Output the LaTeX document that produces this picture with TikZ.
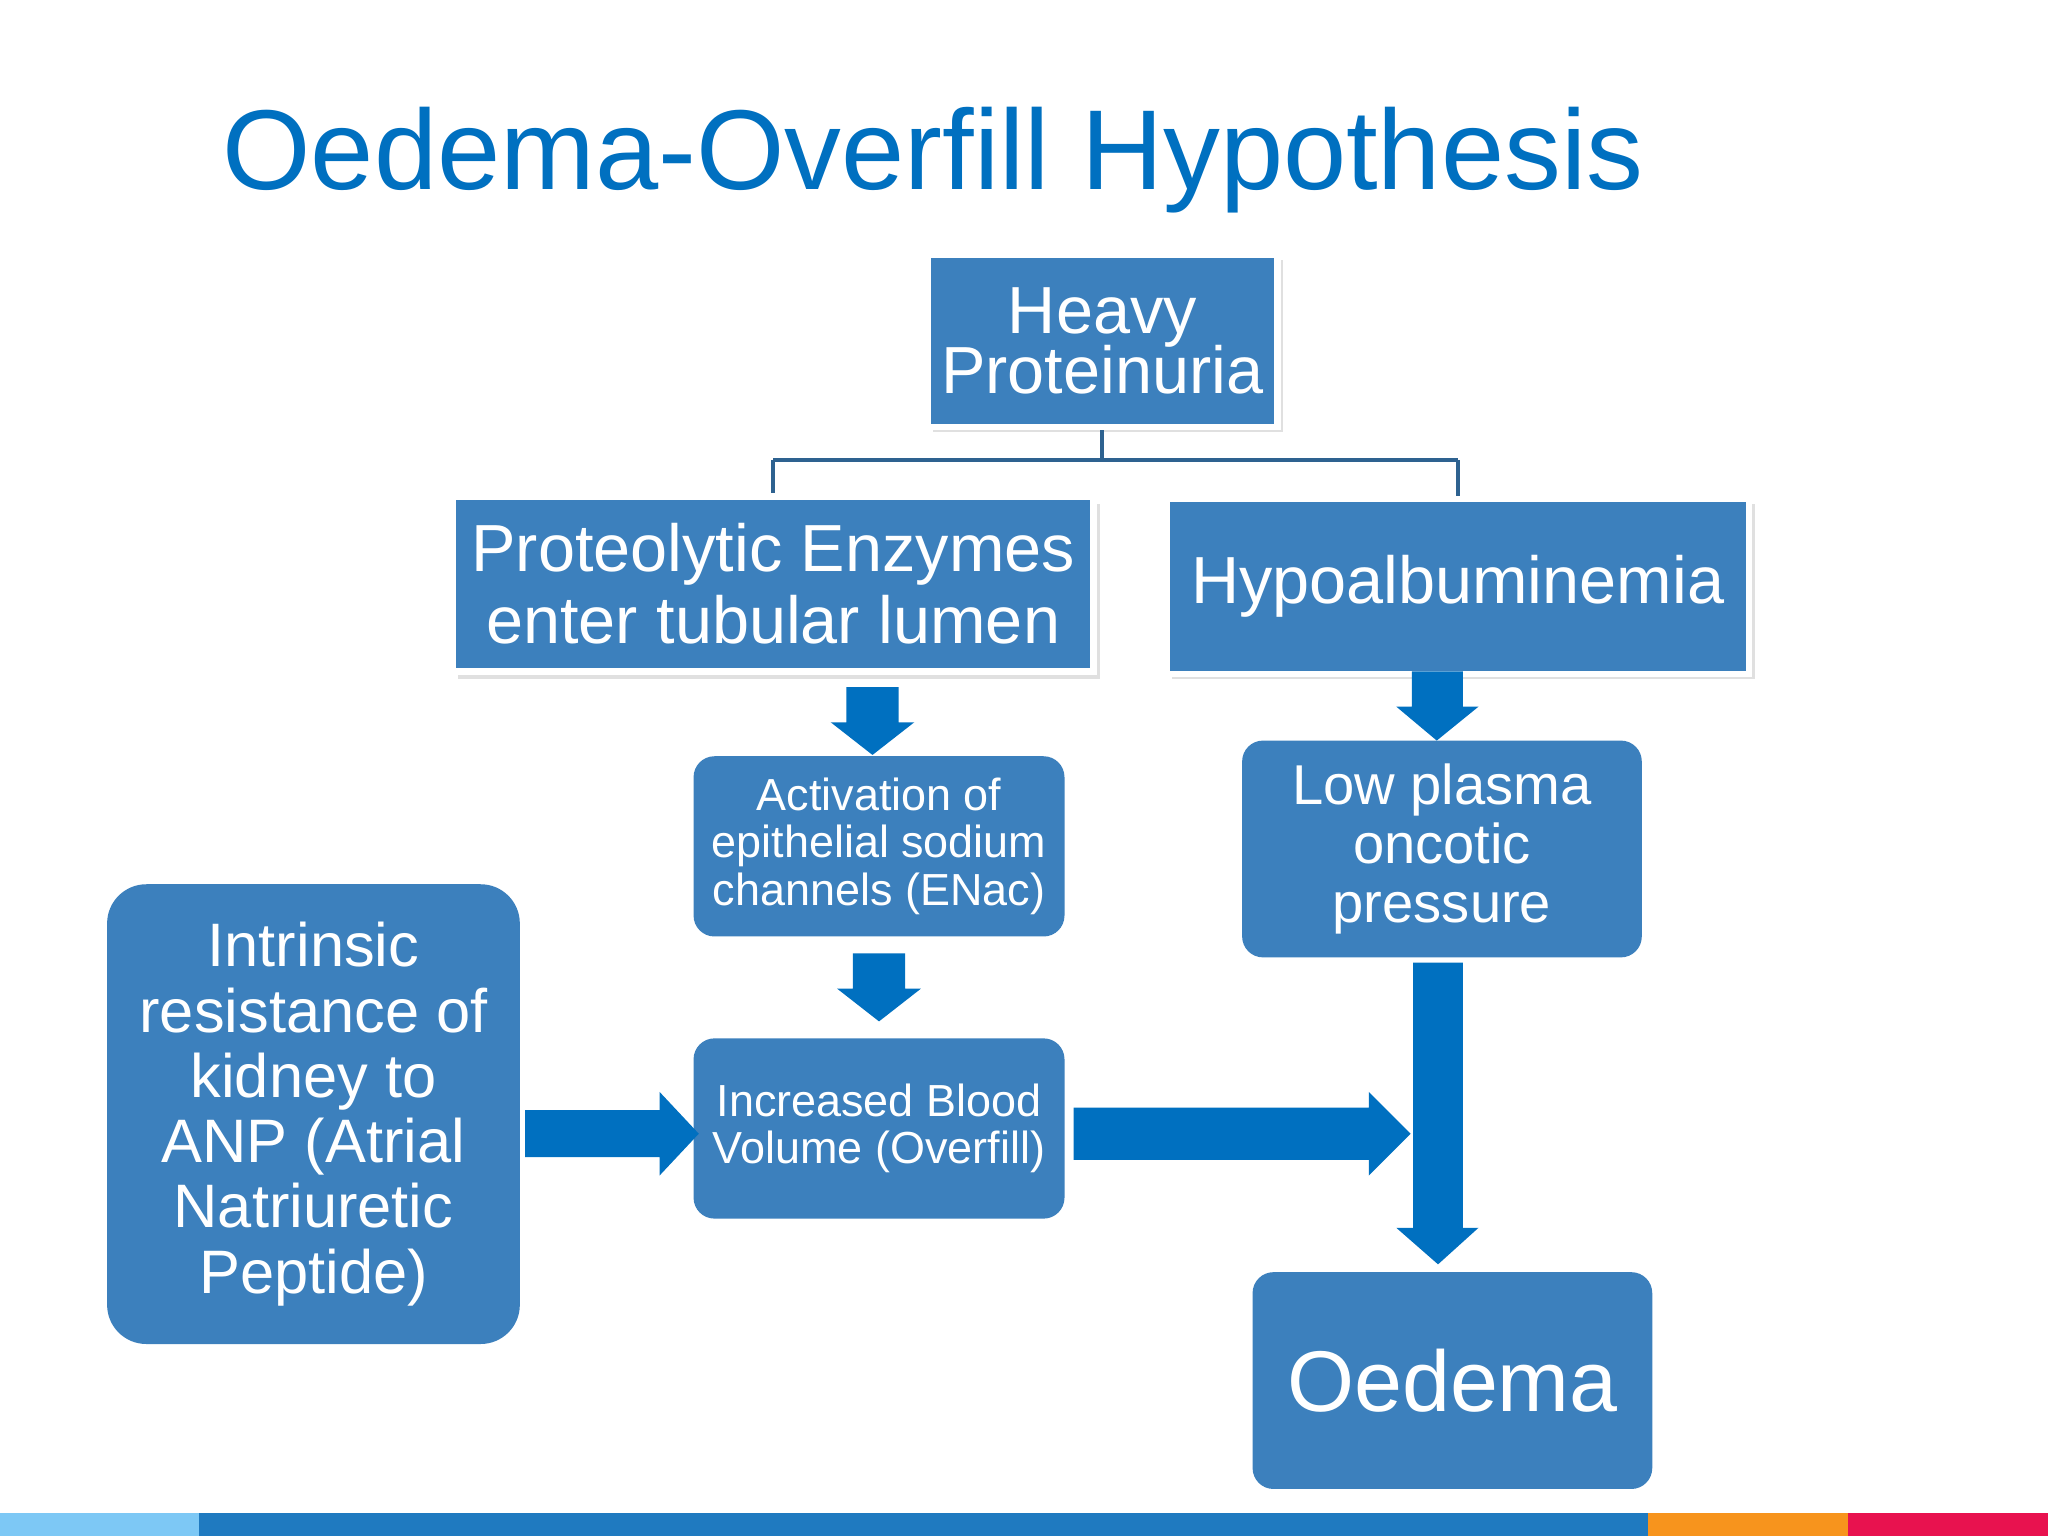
\documentclass[tikz,border=0pt]{standalone}
\usepackage{fontspec}
\setmainfont{Liberation Sans}
\begin{document}
\begin{tikzpicture}[x=0.5pt,y=-0.5pt,
  box/.style={fill=bx, draw=white, line width=2.5pt, text=white, align=center, inner sep=0pt},
  rd/.style={fill=bx, text=white, align=center, inner sep=0pt, rounded corners=8pt},
  arr/.style={fill=ar}]
\definecolor{bx}{HTML}{3C80BD}
\definecolor{ar}{HTML}{0070C0}
\definecolor{ln}{HTML}{2E6290}
\useasboundingbox (0,0) rectangle (1568,1176);
\fill[white] (0,0) rectangle (1568,1176);
\node[anchor=base west, text=ar, font=\fontsize{43.5}{50}\selectfont, inner sep=0pt] (title) at (170,145) {Oedema-Overfill Hypothesis};
% square boxes
\fill[black!12] (714,199) rectangle (982,331);
\node[box, minimum width=134pt, minimum height=66pt, font=\fontsize{25.5}{25}\selectfont] (hp) at (844,261) {Heavy\\[-2pt]Proteinuria};
\fill[black!12] (351,386) rectangle (842,520);
\node[box, minimum width=245pt, minimum height=67pt, font=\fontsize{25.5}{27.5}\selectfont] (pe) at (592,447) {Proteolytic Enzymes\\enter tubular lumen};
\fill[black!12] (897,386) rectangle (1344,520);
\node[box, minimum width=223pt, minimum height=67pt, font=\fontsize{25.5}{27}\selectfont] (ha) at (1116,449) {Hypoalbuminemia};
% connector tree
\coordinate (j) at (844,352);
\draw[ln, line width=1.6pt] (hp.south) -- (j) (592,352) -- (1116,352) (592,352) -- (pe.north) (1116,352) -- (ha.north);
% rounded boxes
\node[rd, minimum width=142pt, minimum height=69pt, font=\fontsize{17.2}{18}\selectfont] (en) at (673,648) {Activation of\\epithelial sodium\\channels (ENac)};
\node[rd, minimum width=142pt, minimum height=69pt, font=\fontsize{17.2}{18}\selectfont] (bv) at (673,864) {Increased Blood\\Volume (Overfill)};
\node[rd, rounded corners=15pt, minimum width=158pt, minimum height=176pt, font=\fontsize{23.5}{25}\selectfont] (ir) at (240,853) {Intrinsic\\resistance of\\kidney to\\ANP (Atrial\\Natriuretic\\Peptide)};
\node[rd, minimum width=153pt, minimum height=83pt, font=\fontsize{21.5}{22.5}\selectfont] (lp) at (1104,650) {Low plasma\\oncotic\\pressure};
\node[rd, minimum width=153pt, minimum height=83pt, font=\fontsize{33}{34}\selectfont] (oe) at (1112,1057) {Oedema};
% block arrows
\fill[arr] (648,526) -- (688,526) -- (688,553) -- (700,553) -- (668,578) -- (636,553) -- (648,553) -- cycle;
\fill[arr] (653,730) -- (693,730) -- (693,757) -- (705,757) -- (673,782) -- (641,757) -- (653,757) -- cycle;
\fill[arr] (1081,514) -- (1120,514) -- (1120,541) -- (1132,541) -- (1100,567) -- (1069,541) -- (1081,541) -- cycle;
\fill[arr] (1082,737) -- (1120,737) -- (1120,940) -- (1132,940) -- (1101,968) -- (1069,940) -- (1082,940) -- cycle;
\fill[arr] (402,850) -- (505,850) -- (505,836) -- (535,868) -- (505,900) -- (505,886) -- (402,886) -- cycle;
\fill[arr] (822,848) -- (1048,848) -- (1048,836) -- (1080,868) -- (1048,900) -- (1048,888) -- (822,888) -- cycle;
% bottom bar
\definecolor{b1}{HTML}{7DC8F5}\definecolor{b2}{HTML}{1F7AC0}\definecolor{b3}{HTML}{F7941D}\definecolor{b4}{HTML}{E8124F}
\fill[b1] (0,1158) rectangle (152,1176);
\fill[b2] (152,1158) rectangle (1262,1176);
\fill[b3] (1262,1158) rectangle (1415,1176);
\fill[b4] (1415,1158) rectangle (1568,1176);
\end{tikzpicture}
\end{document}
